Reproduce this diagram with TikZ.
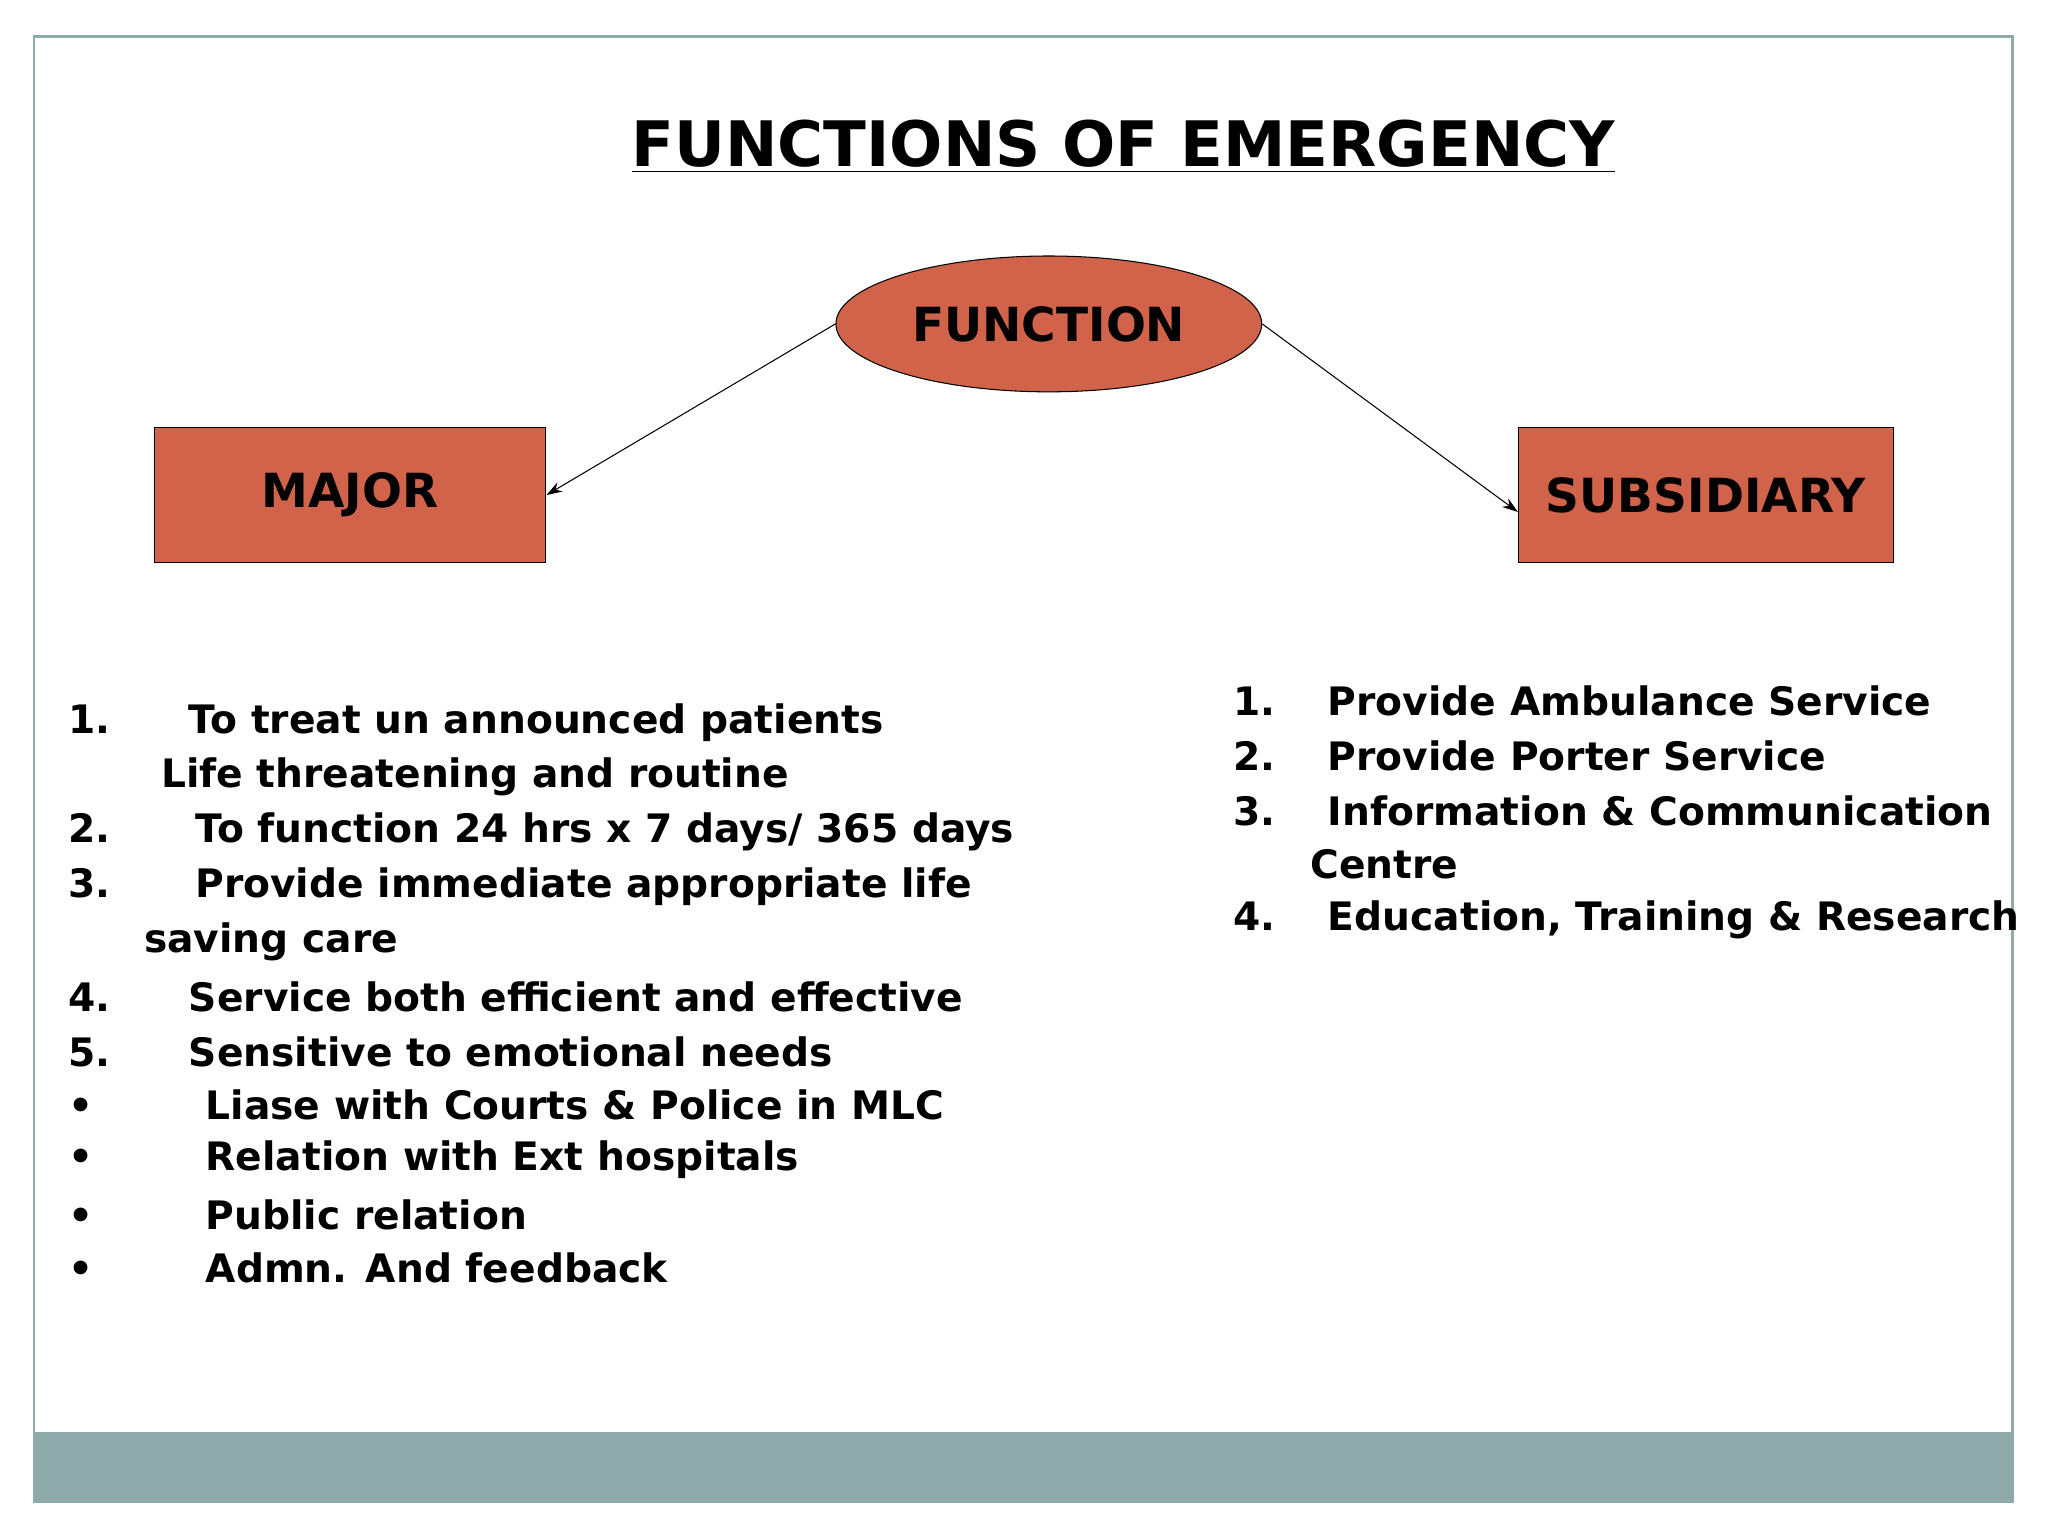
\documentclass[tikz,border=0pt]{standalone}
\usepackage{fontspec}
\setmainfont{DejaVu Sans}
\usetikzlibrary{calc,arrows.meta,positioning,shapes.geometric}
\definecolor{boxred}{RGB}{208,99,74}
\definecolor{bandgray}{RGB}{143,170,170}
\begin{document}
\begin{tikzpicture}[x=0.5pt,y=-0.5pt,
  boxed/.style = {draw, fill=boxred, inner sep=0pt, font=\bfseries\fontsize{18}{20}\selectfont},
  item/.style = {anchor=west, inner sep=0pt, font=\bfseries\fontsize{15}{18}\selectfont},
  >={Stealth[length=6pt,width=4pt]}]
  \useasboundingbox (0,0) rectangle (1568,1176);
  \fill[white] (0,0) rectangle (1568,1176);
  \fill[bandgray] (26,1096) rectangle (1541,1150);
  \draw[bandgray, line width=1pt] (26,28) rectangle (1541,1150);
  % title
  \node[font=\bfseries\fontsize{24}{28}\selectfont] (title) at (860,112) {\underline{FUNCTIONS OF EMERGENCY}};
  \node[boxed, ellipse, minimum width=163pt, minimum height=52pt] (func) at (803,248) {FUNCTION};
  \node[boxed, minimum width=150pt, minimum height=52pt] (major) at (268,379) {MAJOR};
  \node[boxed, minimum width=143.5pt, minimum height=52pt] (subs) at (1306,379) {SUBSIDIARY};
  \draw[->] (func.west) -- (major.east);
  \draw[->] (func.east) -- ($(subs.west)+(0,13)$);
  % major list
  \foreach \n/\y/\t in {1/553/To treat un announced patients, 2/637/{\,To function 24 hrs x 7 days/ 365 days},
      3/679/{\,Provide immediate appropriate life}, 4/763/Service both efficient and effective,
      5/805/Sensitive to emotional needs}
    \node[item] (ln\n) at (52,\y) {\n.\rlap{\hspace{30pt}\t}};
  \node[item] (ln1b) at (123,595) {Life threatening and routine};
  \node[item] (ln3b) at (110,721) {saving care};
  \foreach \k/\y/\t in {1/846/Liase with Courts \& Police in MLC, 2/888/Relation with Ext hospitals,
      3/930/Public relation, 4/971/Admn. And feedback}
    \node[item] (lb\k) at (52,\y) {\textbullet\rlap{\hspace{43pt}\t}};
  % subsidiary list
  \foreach \n/\y/\t in {1/537/Provide Ambulance Service, 2/579/Provide Porter Service,
      3/621/Information \& Communication, 4/704/{Education, Training \& Research}}
    \node[item] (rn\n) at (944,\y) {\n.\rlap{\hspace{20pt}\t}};
  \node[item] (rn3b) at (1003,662) {Centre};
\end{tikzpicture}
\end{document}
